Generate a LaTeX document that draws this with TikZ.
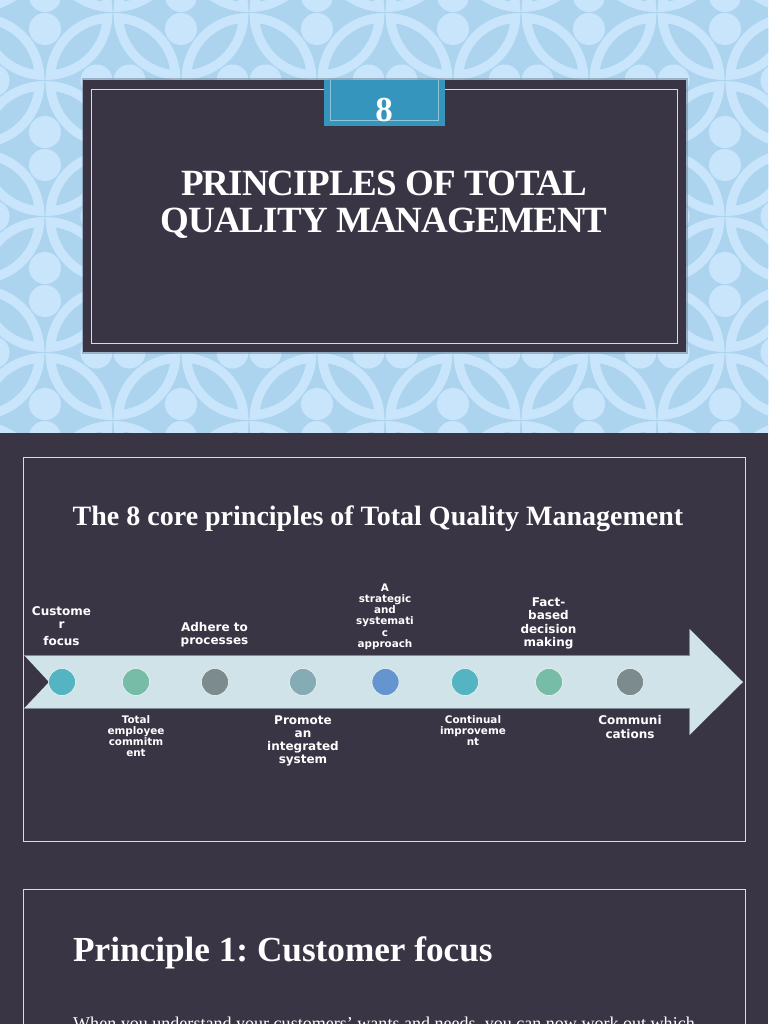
\documentclass[tikz,border=0pt]{standalone}
\usepackage{fontspec}
\setmainfont{Liberation Serif}
\newfontfamily\lab{DejaVu Sans}
\newfontface\tightbold[LetterSpace=-2.4]{Liberation Serif Bold}
\definecolor{bgc}{HTML}{ACD4EF}
\definecolor{petalc}{HTML}{C8E5FC}
\definecolor{panel}{HTML}{393545}
\definecolor{tab}{HTML}{3595BD}
\definecolor{arrowc}{HTML}{D0E3E8}
\definecolor{framec}{HTML}{DADADF}
\definecolor{edgec}{HTML}{7F8A96}
\definecolor{shadowc}{HTML}{6F7F90}
\definecolor{ca}{HTML}{55B4C2}
\definecolor{cb}{HTML}{76BCA6}
\definecolor{cc}{HTML}{7C8C8E}
\definecolor{cd}{HTML}{85ABB5}
\definecolor{ce}{HTML}{6495CF}
\tikzset{x=1pt,y=-1pt,
 lblbig/.style={text=white,align=center,inner sep=0pt,font=\lab\bfseries\fontsize{12}{13.2}\selectfont},
 lblsmall/.style={text=white,align=center,inner sep=0pt,font=\lab\bfseries\fontsize{10.4}{11.2}\selectfont},
 dotn/.style={circle,minimum size=27pt,inner sep=0pt,draw=white!80!arrowc,line width=.5pt},
 ttl/.style={text=white,inner sep=0pt,anchor=base},
 frameline/.style={draw=framec,line width=.7pt}}
\begin{document}
\begin{tikzpicture}
\frenchspacing
\useasboundingbox (0,0) rectangle (768,1024);
\clip (0,0) rectangle (768,1024);
\fill[bgc] (0,0) rectangle (768,433);
\begin{scope}
\clip (0,0) rectangle (768,433);
\foreach \i in {-1,...,12}{\foreach \j in {-1,...,7}{
  \pgfmathsetmacro{\cx}{45+68*\i}
  \pgfmathsetmacro{\cy}{12.5+68*\j}
  \pgfmathtruncatemacro{\parity}{mod(\i+\j+40,2)}
  \pgfmathtruncatemacro{\pj}{mod(\j+40,2)}
  \ifnum\parity=0
    \ifnum\pj=0
      \fill[petalc] (\cx,\cy-16.5) circle[radius=16];
      \fill[petalc] (\cx,\cy+16.5) circle[radius=16];
    \else
      \fill[petalc] (\cx-16.5,\cy) circle[radius=16];
      \fill[petalc] (\cx+16.5,\cy) circle[radius=16];
    \fi
    \foreach \sx/\sy in {1/1,1/-1,-1/1,-1/-1}{
      \fill[petalc] (\cx+\sx*67.3,\cy+\sy*0.7) .. controls (\cx+\sx*67.3,\cy+\sy*38) and (\cx+\sx*38,\cy+\sy*67.3) .. (\cx+\sx*0.7,\cy+\sy*67.3)
         .. controls (\cx+\sx*0.7,\cy+\sy*30) and (\cx+\sx*30,\cy+\sy*0.7) .. cycle;
      \fill[bgc] (\cx+\sx*57,\cy+\sy*11) .. controls (\cx+\sx*53,\cy+\sy*34.7) and (\cx+\sx*34.7,\cy+\sy*53) .. (\cx+\sx*11,\cy+\sy*57)
         .. controls (\cx+\sx*15.3,\cy+\sy*33) and (\cx+\sx*33,\cy+\sy*15.3) .. cycle;
    }
  \fi
}}
\end{scope}
% title panel
\fill[shadowc,opacity=.5] (81.5,78.5) rectangle (687.5,353.5);
\fill[panel] (83,80) rectangle (686,352);
\draw[frameline] (91.5,89.5) rectangle (677.5,343.5);
\fill[tab] (323.5,80) rectangle (444.5,126);
\draw[white!45!tab,line width=.7pt] (330.5,80) -- (330.5,120.5) -- (438.5,120.5) -- (438.5,80);
\node[ttl,font=\bfseries\fontsize{35}{35}\selectfont] (eight) at (384,122) {8};
\node[ttl,font=\tightbold\fontsize{37}{37}\selectfont] (t1) at (384,196) {PRINCIPLES OF TOTAL};
\node[ttl,font=\tightbold\fontsize{37}{37}\selectfont] (t2) at (384,233) {QUALITY MANAGEMENT};
% lower dark area
\fill[panel] (0,433) rectangle (768,1024);
\draw[frameline] (23.5,457.5) rectangle (745.5,841.5);
\draw[frameline] (23.5,889.5) rectangle (745.5,1040);
\node[ttl,font=\bfseries\fontsize{28}{28}\selectfont] (h1) at (378,525) {The 8 core principles of Total Quality Management};
\node[ttl,anchor=base west,font=\bfseries\fontsize{35.2}{36}\selectfont] (h2) at (73,961) {Principle 1: Customer focus};
\node[ttl,anchor=base west,font=\fontsize{18.05}{18}\selectfont] (body) at (73,1029) {When you understand your customers’ wants and needs, you can now work out which};
% arrow
\fill[arrowc] (24,655) -- (689.5,655) -- (689.5,629) -- (743,682) -- (689.5,735) -- (689.5,708.5) -- (24,708.5) -- (49,682) -- cycle;
\draw[edgec,line width=.6pt] (24,655) -- (689.5,655) -- (689.5,629);
\draw[edgec,line width=.6pt] (24,708.5) -- (689.5,708.5) -- (689.5,735);
% dots
\node[dotn,fill=ca] (d1) at (62,682) {};
\node[dotn,fill=cb] (d2) at (136,682) {};
\node[dotn,fill=cc] (d3) at (215,682) {};
\node[dotn,fill=cd] (d4) at (303,682) {};
\node[dotn,fill=ce] (d5) at (385.5,682) {};
\node[dotn,fill=ca] (d6) at (465,682) {};
\node[dotn,fill=cb] (d7) at (549,682) {};
\node[dotn,fill=cc] (d8) at (630,682) {};
% labels
\node[lblbig] (l1) at (61.5,626) {Custome\\r\\[4pt]focus};
\node[lblbig] (l3) at (214.5,635) {Adhere to\\processes};
\node[lblsmall] (l5) at (385,616.5) {A\\strategic\\and\\systemati\\c\\approach};
\node[lblbig] (l7) at (548.5,623.5) {Fact-\\based\\decision\\making};
\node[lblsmall] (l2) at (136,736) {Total\\employee\\commitm\\ent};
\node[lblbig] (l4) at (303,741) {Promote\\an\\integrated\\system};
\node[lblsmall] (l6) at (473,730.5) {Continual\\improveme\\nt};
\node[lblbig] (l8) at (630,727) {Communi\\cations};
\end{tikzpicture}
\end{document}
